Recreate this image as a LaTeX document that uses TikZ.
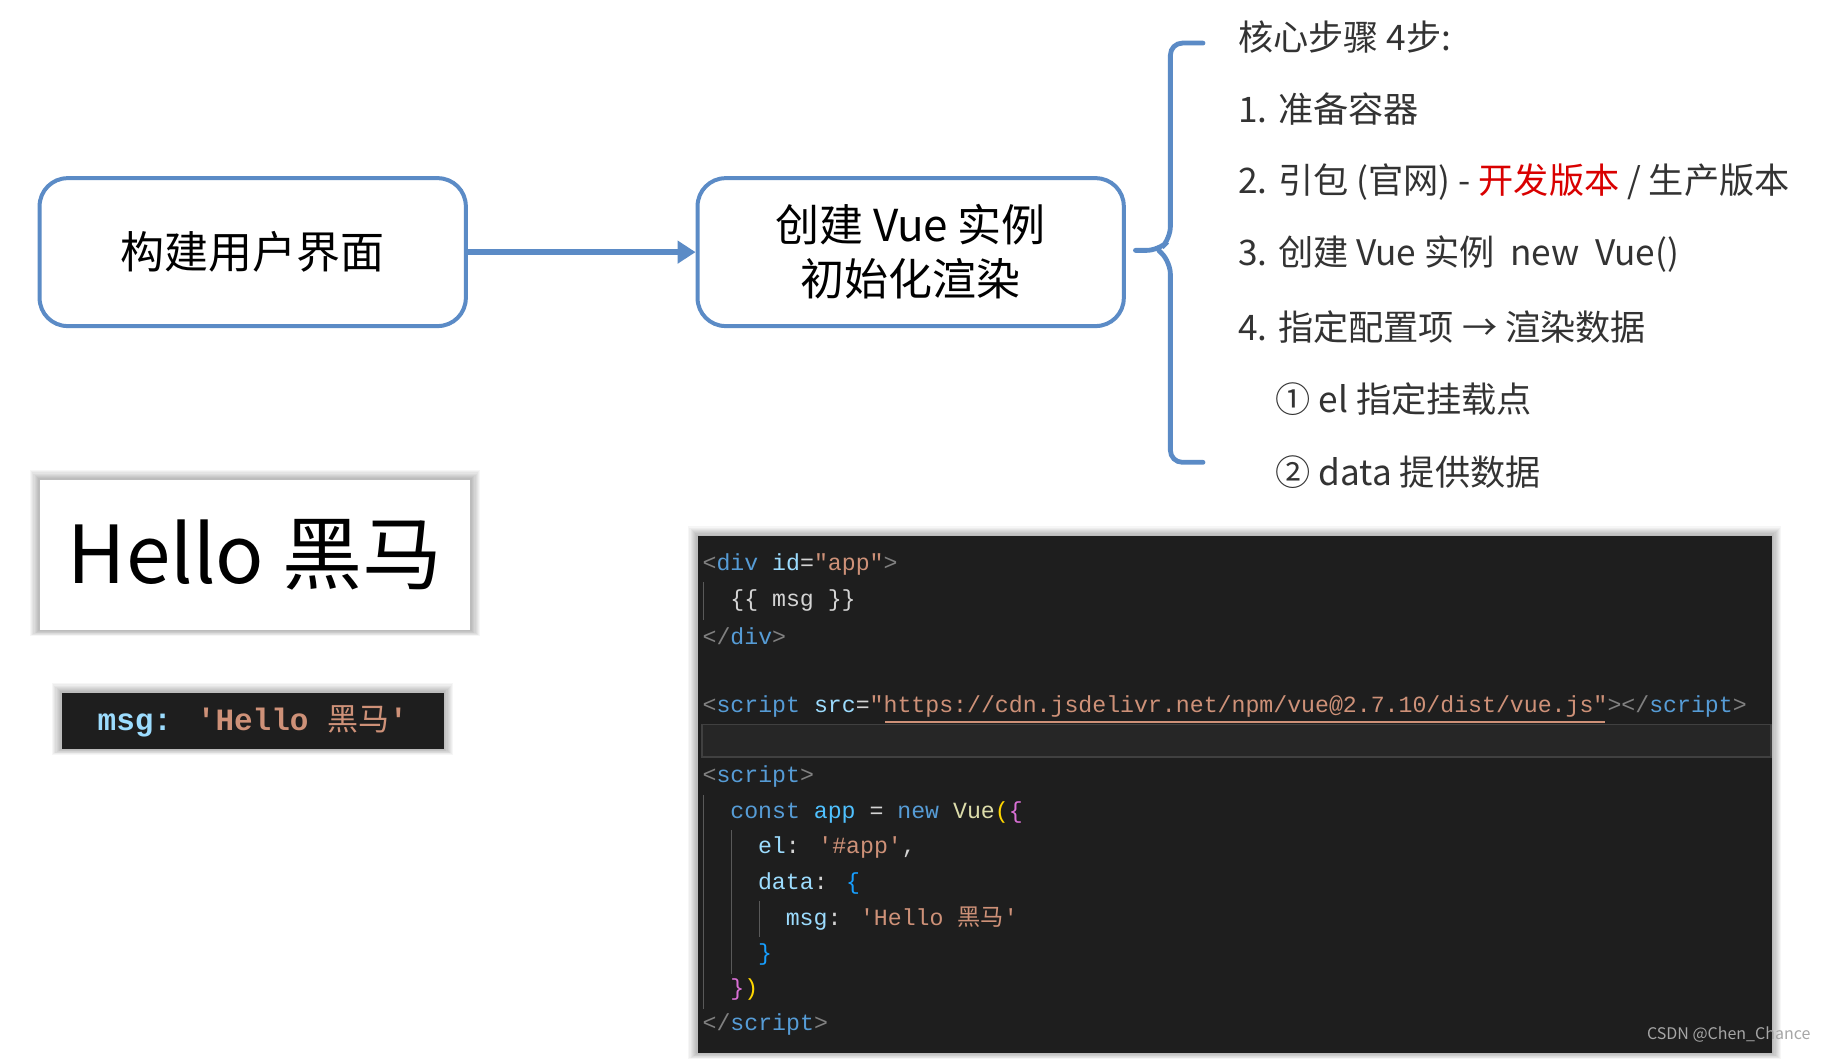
\documentclass[tikz,border=0pt]{standalone}
\usepackage{fontspec}
\setmainfont{Noto Sans CJK SC}
\newfontfamily\code{Liberation Mono}
\newfontfamily\cjk{Noto Sans CJK SC}
\usetikzlibrary{arrows.meta,backgrounds}
\definecolor{vblue}{HTML}{5B8BC6}
\definecolor{cbg}{HTML}{1E1E1E}
\definecolor{ctag}{HTML}{808080}
\definecolor{cname}{HTML}{569CD6}
\definecolor{cattr}{HTML}{9CDCFE}
\definecolor{cstr}{HTML}{CE9178}
\definecolor{ctxt}{HTML}{D4D4D4}
\definecolor{capp}{HTML}{4FC1FF}
\definecolor{cvue}{HTML}{DCDCAA}
\definecolor{cyel}{HTML}{FFD700}
\definecolor{cmag}{HTML}{DA70D6}
\definecolor{cbr}{HTML}{179FFF}
\definecolor{listc}{HTML}{333333}
\begin{document}
\begin{tikzpicture}[x=0.5823pt,y=-0.5823pt,
  flowbox/.style={draw=vblue,line width=2pt,rounded corners=14pt,minimum width=366*0.5823pt,minimum height=127*0.5823pt,font=\fontsize{22}{27}\selectfont,align=center,inner sep=0pt},
  listitem/.style={anchor=west,inner sep=0pt,text=listc,font=\fontsize{17.6}{20}\selectfont},
  codeline/.style={anchor=west,inner sep=0pt,font=\code\fontsize{11.6}{13}\selectfont,text=ctxt},
  guide/.style={draw=ctag!60!cbg,line width=0.6pt}]
\begin{scope}[on background layer]
\path[fill=white,use as bounding box] (0,0) rectangle (1568,904.2);
\end{scope}
% flow
\node[flowbox] (b1) at (217,216.5) {构建用户界面};
\node[flowbox] (b2) at (782,216.5) {创建 Vue 实例\\初始化渲染};
\draw[vblue,line width=3pt,-{Triangle[length=9pt,width=11pt]}] (b1.east) -- (b2.west);
% brace
\coordinate (bt) at (1033,37);
\coordinate (bb) at (1033,397);
\draw[vblue,line width=2.4pt,rounded corners=6pt,line cap=round] (bt) -- (1005,37) -- (1005,205) -- (995,215) -- (975,215);
\draw[vblue,line width=2.4pt,rounded corners=6pt,line cap=round] (bb) -- (1005,397) -- (1005,225) -- (995,215);
% list
\node[listitem] (l0) at (1063,32) {核心步骤 4步:};
\node[listitem] (l1) at (1063,94) {1. 准备容器};
\node[listitem] (l2) at (1063,156) {2. 引包 (官网) - \textcolor{red!85!black}{开发版本} / 生产版本};
\node[listitem] (l3) at (1063,218) {3. 创建 Vue 实例\ \ new\ \ Vue()};
\node[listitem] (l4) at (1063,281) {4. 指定配置项 → 渲染数据};
\node[listitem] (l5) at (1095,343) {① el 指定挂载点};
\node[listitem] (l6) at (1095,405) {② data 提供数据};
% hello box
\node[fill=white,minimum width=370*0.5823pt,minimum height=129*0.5823pt,inner sep=0pt,font=\fontsize{40}{42}\selectfont] (hello) at (219,476.5) {Hello 黑马};
% msg
\node[fill=cbg,minimum width=328*0.5823pt,minimum height=48*0.5823pt,inner sep=0pt,font=\code\bfseries\fontsize{15.5}{18}\selectfont] (msg) at (217,619) {\textcolor{cattr}{msg:} \textcolor{cstr}{'Hello {\cjk\mdseries 黑马}'}};
% code block
\node[fill=cbg,minimum width=922*0.5823pt,minimum height=444*0.5823pt,inner sep=0pt,anchor=north west] (cb) at (599,460) {};
\begin{scope}[on background layer]
\foreach \n in {hello,msg,cb}{
  \foreach \i in {1,...,8}{
    \fill[black,opacity=0.035] ([shift={(-\i,-\i)}]\n.north west) rectangle ([shift={(\i,\i*0.6)}]\n.south east);
  }
}
\end{scope}
\draw[draw=ctag!35!cbg,fill=ctag!8!cbg,line width=0.8pt] (603,622) rectangle (1521,650);
\draw[guide] (604,500) -- (604,532);
\draw[guide] (604,683) -- (604,866);
\draw[guide] (628,713) -- (628,836);
\draw[guide] (652,774) -- (652,805);
\node[codeline] (c1) at (603,485) {\textcolor{ctag}{<}\textcolor{cname}{div} \textcolor{cattr}{id}=\textcolor{cstr}{"app"}\textcolor{ctag}{>}};
\node[codeline] (c2) at (626.8,516) {\{\{ msg \}\}};
\node[codeline] (c3) at (603,546) {\textcolor{ctag}{</}\textcolor{cname}{div}\textcolor{ctag}{>}};
\node[codeline] (c4) at (603,607) {\textcolor{ctag}{<}\textcolor{cname}{script} \textcolor{cattr}{src}=\textcolor{cstr}{"https://cdn.jsdelivr.net/npm/vue@2.7.10/dist/vue.js"}\textcolor{ctag}{></}\textcolor{cname}{script}\textcolor{ctag}{>}};
\coordinate (u1) at (760,620);
\coordinate (u2) at (1378,620);
\draw[cstr,line width=0.9pt] (u1) -- (u2);
\node[codeline] (c5) at (603,667) {\textcolor{ctag}{<}\textcolor{cname}{script}\textcolor{ctag}{>}};
\node[codeline] (c6) at (626.8,698) {\textcolor{cname}{const} \textcolor{capp}{app} = \textcolor{cname}{new} \textcolor{cvue}{Vue}\textcolor{cyel}{(}\textcolor{cmag}{\{}};
\node[codeline] (c7) at (650.6,728) {\textcolor{cattr}{el}: \textcolor{cstr}{'\#app'},};
\node[codeline] (c8) at (650.6,759) {\textcolor{cattr}{data}: \textcolor{cbr}{\{}};
\node[codeline] (c9) at (674.4,789) {\textcolor{cattr}{msg}: \textcolor{cstr}{'Hello {\cjk 黑马}'}};
\node[codeline] (c10) at (650.6,820) {\textcolor{cbr}{\}}};
\node[codeline] (c11) at (626.8,850) {\textcolor{cmag}{\}}\textcolor{cyel}{)}};
\node[codeline] (c12) at (603,880) {\textcolor{ctag}{</}\textcolor{cname}{script}\textcolor{ctag}{>}};
\node[anchor=east,inner sep=0pt,text=gray!70,font=\fontsize{8}{9}\selectfont] (wm) at (1555,888) {CSDN @Chen\_Chance};
\end{tikzpicture}
\end{document}
